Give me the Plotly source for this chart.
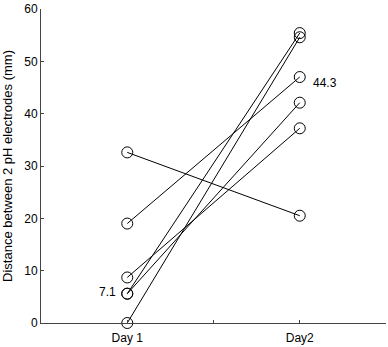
import plotly.graph_objects as go

days = [1, 2]
day_labels = ["Day 1", "Day2"]
day1_values = [32.6, 19.0, 8.7, 5.6, 5.6, 0.0]
day2_values = [20.5, 47.0, 37.2, 42.1, 55.4, 54.6]
y_ticks = [0, 10, 20, 30, 40, 50, 60]
label_day1 = "7.1"
label_day2 = "44.3"

fig = go.Figure()
for a, b in zip(day1_values, day2_values):
    fig.add_trace(go.Scatter(
        x=days, y=[a, b], mode="lines+markers",
        line=dict(color="black", width=1),
        marker=dict(symbol="circle-open", size=11, color="black", line=dict(width=1)),
        showlegend=False, hoverinfo="skip", cliponaxis=False,
    ))

fig.add_annotation(x=days[0], y=day1_values[3], text=label_day1, showarrow=False,
                   xanchor="right", xshift=-9, yshift=2,
                   font=dict(family="Liberation Sans, Arial", size=12, color="black"))
fig.add_annotation(x=days[1], y=day2_values[1], text=label_day2, showarrow=False,
                   xanchor="left", xshift=11, yshift=-6,
                   font=dict(family="Liberation Sans, Arial", size=12, color="black"))

fig.update_layout(
    width=388, height=347,
    margin=dict(l=41, r=2, t=7, b=22),
    plot_bgcolor="white", paper_bgcolor="white",
    font=dict(family="Liberation Sans, Arial", size=12, color="black"),
    xaxis=dict(
        range=[0.5, 2.5], tickvals=[0.5, 1, 1.5, 2, 2.5],
        ticktext=["", day_labels[0], "", day_labels[1], ""],
        ticks="inside", ticklen=3, tickcolor="#444", showgrid=False, zeroline=False,
        showline=True, linecolor="#444", linewidth=1, tickfont=dict(size=12),
        ticklabelstandoff=4,
    ),
    yaxis=dict(
        range=[0, 60], tickvals=y_ticks,
        ticks="inside", ticklen=3, tickcolor="#444", showgrid=False, zeroline=False,
        showline=True, linecolor="#444", linewidth=1, tickfont=dict(size=12),
        title=dict(text="Distance between 2 pH electrodes (mm)", font=dict(size=13), standoff=8),
    ),
)

fig.write_html("out.html", config={"displayModeBar": False},
               post_script="document.body.style.margin='0';document.body.style.overflow='hidden';")
